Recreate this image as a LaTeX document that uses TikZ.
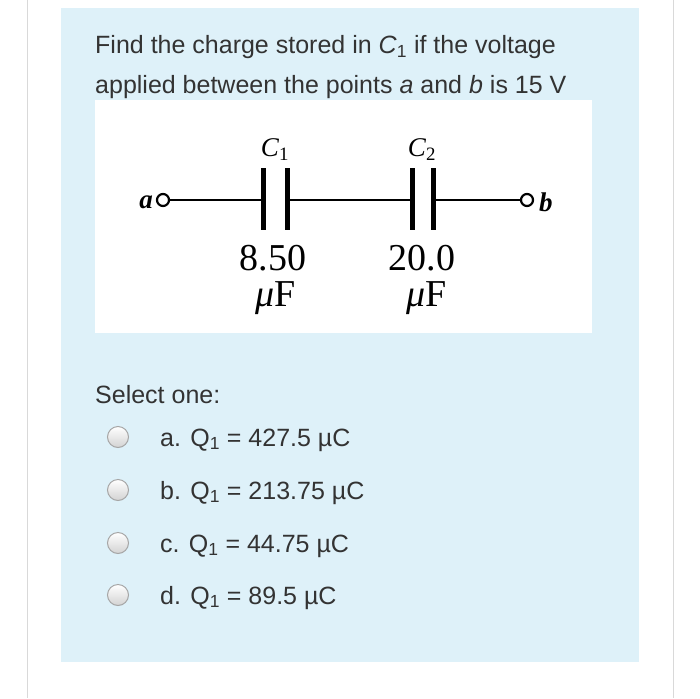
\documentclass[tikz,border=0pt]{standalone}
\usepackage{fontspec}
\setmainfont{Liberation Sans}
\newfontfamily\serifc{Liberation Serif}
\definecolor{panel}{HTML}{DEF1F9}
\definecolor{txt}{HTML}{333333}
\begin{document}
\begin{tikzpicture}[x=1pt,y=-1pt,
  q/.style={anchor=base west,inner sep=0,text=txt,font=\fontsize{25}{28}\selectfont},
  cl/.style={inner sep=0,font=\serifc\fontsize{27}{28}\selectfont},
  vl/.style={inner sep=0,font=\serifc\fontsize{38}{40}\selectfont},
  plate/.style={line width=5pt},
  wire/.style={line width=2.5pt},
  term/.style={circle,draw,line width=2.2pt,minimum size=12pt,inner sep=0,fill=white},
  radio/.style={circle,draw=gray!70,line width=1pt,minimum size=21pt,inner sep=0,top color=white,bottom color=gray!35}]
\useasboundingbox (0,0) rectangle (700,698);
\fill[white] (0,0) rectangle (700,698);
\draw[gray!30] (27,0) -- (27,698);
\draw[gray!30] (673,0) -- (673,698);
\fill[panel] (61,8) rectangle (639,662);
\fill[white] (95,100) rectangle (592,333);
\node[q] (l1) at (95,54) {Find the charge stored in \textit{C}\textsubscript{1} if the voltage};
\node[q] (l2) at (95,93) {applied between the points \textit{a} and \textit{b} is 15 V};
% circuit
\node[term] (ta) at (163,200) {};
\node[term] (tb) at (527,200) {};
\coordinate (p1) at (263,200); \coordinate (p2) at (287,200);
\coordinate (p3) at (412,200); \coordinate (p4) at (433,200);
\draw[wire] (ta) -- (p1) (p2) -- (p3) (p4) -- (tb);
\draw[plate] (263,168) -- (263,230) (287,168) -- (287,230);
\draw[plate] (412,168) -- (412,230) (433,168) -- (433,230);
\node[cl,anchor=east] (la) at (153,202) {\textit{\textbf{a}}};
\node[cl,anchor=west] (lb) at (539,202) {\textit{\textbf{b}}};
\node[cl] (c1) at (275,150) {\textit{C}\textsubscript{1}};
\node[cl] (c2) at (422,150) {\textit{C}\textsubscript{2}};
\node[vl,anchor=base] (v1) at (273,270) {8.50};
\node[vl,anchor=base] (u1) at (276,306) {\textit{μ}F};
\node[vl,anchor=base] (v2) at (422,270) {20.0};
\node[vl,anchor=base] (u2) at (427,306) {\textit{μ}F};
% options
\node[q] (sel) at (95,403) {Select one:};
\node[radio] (r1) at (118,437) {};
\node[radio] (r2) at (118,490) {};
\node[radio] (r3) at (118,543) {};
\node[radio] (r4) at (118,595) {};
\node[q] (o1) at (160,446) {a. Q\textsubscript{1} = 427.5 µC};
\node[q] (o2) at (160,499) {b. Q\textsubscript{1} = 213.75 µC};
\node[q] (o3) at (160,552) {c. Q\textsubscript{1} = 44.75 µC};
\node[q] (o4) at (160,604) {d. Q\textsubscript{1} = 89.5 µC};
\end{tikzpicture}
\end{document}
